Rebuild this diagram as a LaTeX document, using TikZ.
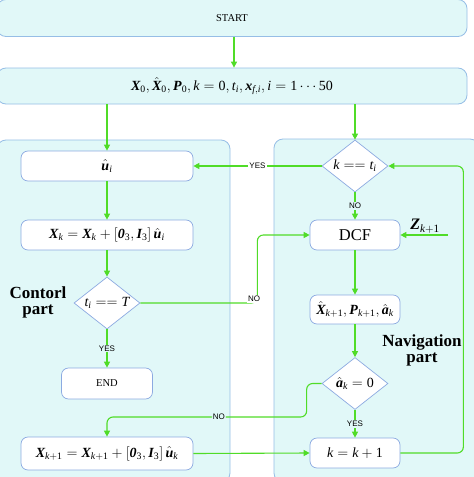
\documentclass[tikz,border=0pt]{standalone}
\usepackage{amsmath}
\usepackage{fontspec}
\setmainfont{Liberation Serif}
\newfontfamily\labfont{Liberation Sans}
\newcommand\Bv[1]{\text{\bfseries\itshape #1}}
\newcommand\Iv[1]{\text{\itshape #1}}
\newcommand\Rv[1]{\text{#1}}
\usetikzlibrary{shapes.geometric,arrows.meta,calc}
\definecolor{gline}{RGB}{80,220,40}
\definecolor{panelfill}{RGB}{225,248,248}
\definecolor{panelborder}{RGB}{150,190,230}
\definecolor{boxborder}{RGB}{140,170,225}
\begin{document}
\begin{tikzpicture}[x=1pt,y=-1pt,
 panel/.style={draw=panelborder,fill=panelfill,rounded corners=9pt,line width=0.8pt,inner sep=0pt},
 wbox/.style={draw=boxborder,fill=white,rounded corners=7pt,line width=0.7pt,inner sep=0pt,font=\fontsize{14}{16}\selectfont},
 dia/.style={diamond,draw=boxborder,fill=white,line width=0.7pt,inner sep=0pt,aspect=1.27,minimum width=66pt,minimum height=52pt,font=\fontsize{14}{16}\selectfont},
 flow/.style={draw=gline,line width=1.1pt,-{Triangle[width=6pt,length=6pt]}},
 lab/.style={font=\labfont\fontsize{8}{9}\selectfont,inner sep=1pt},
 part/.style={font=\bfseries\fontsize{17}{19}\selectfont,align=center}]
\useasboundingbox (0,0) rectangle (474,477);
\fill[white] (0,0) rectangle (474,477);
% panels
\node[panel,minimum width=233pt,minimum height=342pt] (ctrl) at (113.5,311) {};
\node[panel,minimum width=205pt,minimum height=343pt] (nav) at (376.5,310.5) {};
\node[panel,minimum width=470pt,minimum height=37pt,font=\fontsize{10.5}{12}\selectfont] (start) at (232,18) {START};
\node[panel,minimum width=470pt,minimum height=36pt,font=\fontsize{14}{16}\selectfont] (init) at (232,86)
 {$\Bv{X}_{\Rv{0}},\hat{\Bv{X}}_{\Rv{0}},\Bv{P}_{\Rv{0}},\Iv{k}=\Rv{0},\Iv{t}_{\Iv{i}},\Bv{x}_{\Iv{f},\Iv{i}},\Iv{i}=\Rv{1}\cdots\Rv{50}$};
% control part
\node[wbox,minimum width=172pt,minimum height=30pt] (ui) at (107,166) {$\hat{\Bv{u}}_{\Iv{i}}$};
\node[wbox,minimum width=172pt,minimum height=30pt] (xk) at (107,235) {$\Bv{X}_{\Iv{k}}=\Bv{X}_{\Iv{k}}+\left[\Bv{0}_{\Rv{3}},\Bv{I}_{\Rv{3}}\right]\hat{\Bv{u}}_{\Iv{i}}$};
\node[dia] (dT) at (107,303) {$\Iv{t}_{\Iv{i}}==\Iv{T}$};
\node[wbox,minimum width=91pt,minimum height=31pt,font=\fontsize{10.5}{12}\selectfont] (end) at (107,383.5) {END};
\node[wbox,minimum width=172pt,minimum height=33pt] (xk1) at (107,453.5) {$\Bv{X}_{\Iv{k}+\Rv{1}}=\Bv{X}_{\Iv{k}+\Rv{1}}+\left[\Bv{0}_{\Rv{3}},\Bv{I}_{\Rv{3}}\right]\hat{\Bv{u}}_{\Iv{k}}$};
\node[part] (cl) at (38,302) {Contorl\\[-3pt]part};
% navigation part
\node[dia] (dk) at (355,166) {$\Iv{k}==\Iv{t}_{\Iv{i}}$};
\node[wbox,minimum width=90pt,minimum height=30pt,font=\fontsize{16.5}{18}\selectfont] (dcf) at (355,235) {DCF};
\node[wbox,minimum width=90pt,minimum height=29pt] (xh) at (355,309.5) {$\hat{\Bv{X}}_{\Iv{k}+\Rv{1}},\Bv{P}_{\Iv{k}+\Rv{1}},\hat{\Bv{a}}_{\Iv{k}}$};
\node[dia] (da) at (355,383.5) {$\hat{\Bv{a}}_{\Iv{k}}=\Rv{0}$};
\node[wbox,minimum width=90pt,minimum height=30pt] (kk) at (355,453) {$\Iv{k}=\Iv{k}+\Rv{1}$};
\node[part] (nl) at (422,350) {Navigation\\[-3pt]part};
\node[font=\fontsize{16}{18}\selectfont] (z) at (425,226) {$\Bv{Z}_{\Iv{k}+\Rv{1}}$};
\coordinate (zin) at (448,235);
% connectors
\draw[flow] (start.south -| 234,0) -- (init.north -| 234,0);
\draw[flow] (init.south -| ui.north) -- (ui.north);
\draw[flow] (init.south -| dk.north) -- (dk.north);
\draw[flow] (ui) -- (xk);
\draw[flow] (xk) -- (dT);
\draw[flow] (dT) -- (end) node[lab,pos=0.5,fill=panelfill] {YES};
\draw[flow,rounded corners=6pt] (dT.east) -- ++(117,0) |- (dcf.west);
\node[lab,fill=white] (no1) at (254,299) {NO};
\draw[flow] (dk.west) -- (ui.east) node[lab,pos=0.5,fill=white] {YES};
\draw[flow] (dk) -- (dcf) node[lab,pos=0.5,fill=panelfill] {NO};
\draw[flow] (zin) -- (dcf.east);
\draw[flow] (dcf) -- (xh);
\draw[flow] (xh) -- (da);
\draw[flow] (da) -- (kk) node[lab,pos=0.5,fill=panelfill] {YES};
\draw[flow,rounded corners=6pt] (da.west) -- ++(-15,0) |- (107,417) node[lab,pos=0.72,fill=panelfill] {NO} -- (xk1.north);
\draw[flow] (xk1.east) -- (kk.west);
\draw[flow,rounded corners=6pt] (kk.east) -- ++(63,0) |- (dk.east);
\end{tikzpicture}
\end{document}
